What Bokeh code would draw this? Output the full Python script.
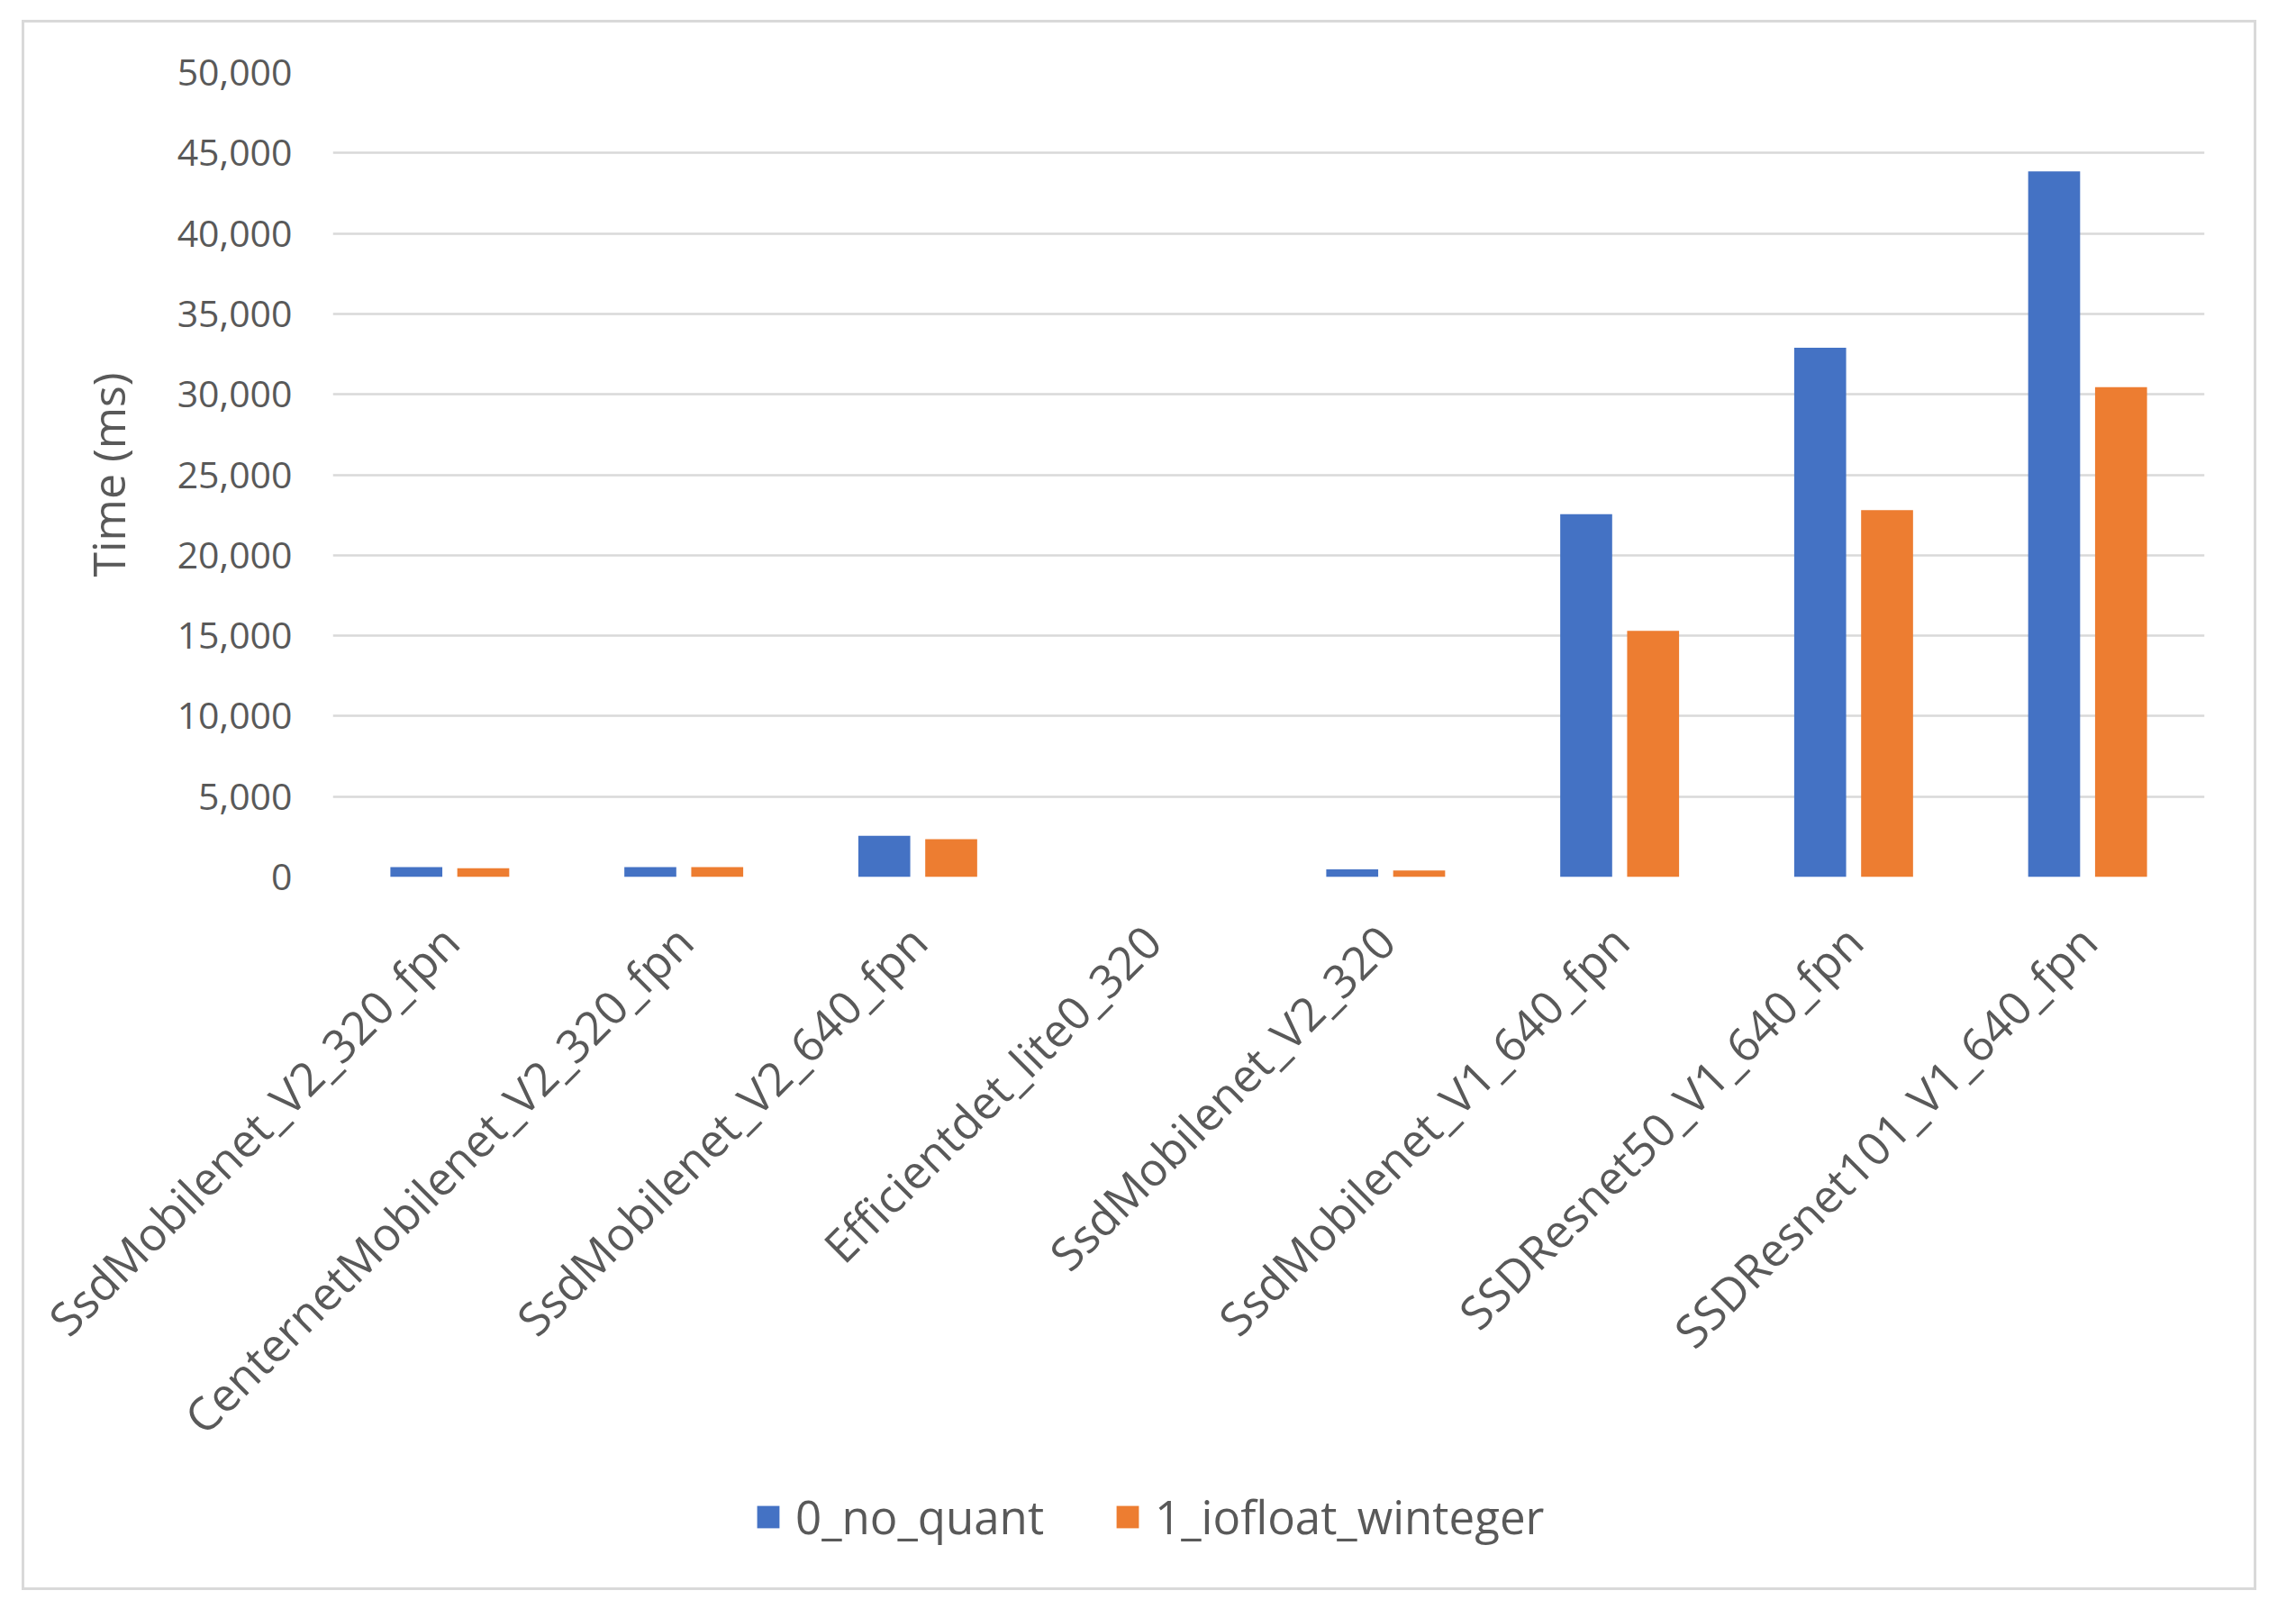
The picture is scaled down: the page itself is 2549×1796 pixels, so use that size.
from bokeh.plotting import figure
from bokeh.models import FactorRange, NumeralTickFormatter, Legend, LegendItem, ColumnDataSource, SingleIntervalTicker
from bokeh.layouts import column
from bokeh.transform import dodge
from bokeh.embed import file_html
from bokeh.resources import INLINE
import math

categories = ["SsdMobilenet_V2_320_fpn", "CenternetMobilenet_V2_320_fpn", "SsdMobilenet_V2_640_fpn",
              "Efficientdet_lite0_320", "SsdMobilenet_V2_320", "SsdMobilenet_V1_640_fpn",
              "SSDResnet50_V1_640_fpn", "SSDResnet101_V1_640_fpn"]
no_quant = [610, 610, 2560, 0, 480, 22550, 32900, 43850]
iofloat_winteger = [540, 620, 2350, 0, 410, 15300, 22800, 30450]
series_names = ["0_no_quant", "1_iofloat_winteger"]
colors = ["#4472C4", "#ED7D31"]

src = ColumnDataSource(dict(cat=categories, a=no_quant, b=iofloat_winteger))

FONT = "Open Sans"
TXT = "#595959"
W = 2475

xr = FactorRange(*categories, range_padding=0)
p = figure(x_range=xr, y_range=(0, 50000),
           width=W, height=1625, output_backend="svg", toolbar_location=None,
           min_border_left=342, min_border_right=55, min_border_top=55, min_border_bottom=677)
p.outline_line_color = None
p.background_fill_color = "white"
p.border_fill_color = "white"

r1 = p.vbar(x=dodge("cat", -0.143, range=xr), top="a", width=0.222, source=src,
            fill_color=colors[0], line_color=None)
r2 = p.vbar(x=dodge("cat", 0.143, range=xr), top="b", width=0.222, source=src,
            fill_color=colors[1], line_color=None)

p.xgrid.grid_line_color = None
p.ygrid.grid_line_color = "#d9d9d9"
p.ygrid.grid_line_width = 2.5
p.yaxis.ticker = SingleIntervalTicker(interval=5000)
p.yaxis.formatter = NumeralTickFormatter(format="0,0")
p.yaxis.axis_label = "Time (ms)"

for ax in (p.xaxis, p.yaxis):
    ax.axis_line_color = None
    ax.major_tick_line_color = None
    ax.minor_tick_line_color = None
    ax.major_label_text_font = FONT
    ax.major_label_text_color = TXT
    ax.axis_label_text_font = FONT
    ax.axis_label_text_color = TXT
    ax.axis_label_text_font_style = "normal"

p.yaxis.major_label_text_font_size = "41px"
p.yaxis.major_label_standoff = 39
p.yaxis.axis_label_text_font_size = "50px"
p.yaxis.axis_label_standoff = 40
p.xaxis.major_label_text_font_size = "51px"
p.xaxis.major_label_orientation = math.pi / 4
p.xaxis.major_label_standoff = 56

# legend lives in a small figure of its own below the chart
p2 = figure(width=W, height=112, output_backend="svg", toolbar_location=None,
            x_range=xr, y_range=(0, 1), min_border=0)
p2.axis.visible = False
p2.grid.grid_line_color = None
p2.outline_line_color = None
p2.border_fill_color = "white"
l1 = p2.vbar(x=dodge("cat", -0.143, range=xr), top="a", width=0.222, source=src,
             fill_color=colors[0], line_color=None, visible=False)
l2 = p2.vbar(x=dodge("cat", 0.143, range=xr), top="b", width=0.222, source=src,
             fill_color=colors[1], line_color=None, visible=False)

legend = Legend(items=[LegendItem(label=series_names[0], renderers=[l1]),
                       LegendItem(label=series_names[1], renderers=[l2])],
                orientation="horizontal", location=(468, 44),
                glyph_width=31, glyph_height=31, label_standoff=15, spacing=77,
                padding=0, margin=0, border_line_color=None, background_fill_alpha=0,
                inactive_fill_alpha=0,
                label_text_font=FONT, label_text_font_size="51px", label_text_color=TXT)
p2.add_layout(legend, "center")

layout = column(p, p2, spacing=0)
layout.styles = {"border": "3px solid #d9d9d9", "margin-left": "24px", "margin-top": "22px"}

open("out.html", "w").write(file_html(layout, INLINE))
